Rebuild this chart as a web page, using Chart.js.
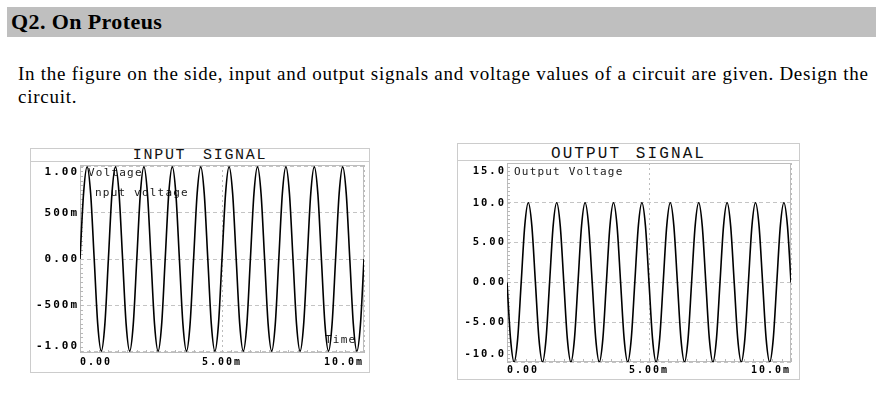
<!DOCTYPE html>
<html>
<head>
<meta charset="utf-8">
<script src="https://cdn.jsdelivr.net/npm/chart.js@4.4.1/dist/chart.umd.min.js"></script>
<style>
    body { margin: 0; background: #fff; width: 881px; height: 394px; position: relative; overflow: hidden; }
    .cabecera { position: absolute; left: 7px; top: 7px; width: 869px; height: 30px; background: #bfbfbf;
        font: bold 22px "Liberation Serif", serif; line-height: 30px; padding-left: 4px; box-sizing: border-box;
        letter-spacing: 0.4px; color: #000; }
    .texto { position: absolute; left: 18px; top: 62px; width: 856px; margin: 0;
        font: 19px "Liberation Serif", serif; line-height: 23px; letter-spacing: 0.75px; color: #000; }
    .panel { position: absolute; border: 1px solid #cccccc; box-sizing: border-box; }
    .titulo { position: absolute; left: 0; right: 0; top: 0; border-bottom: 1px solid #cccccc; text-align: center;
        font-family: "Liberation Mono", monospace; color: #111; white-space: pre; }
    canvas { position: absolute; }
</style>
</head>
<body>
<div class="cabecera">Q2. On Proteus</div>
<p class="texto">In the figure on the side, input and output signals and voltage values of a circuit are given. Design the circuit.</p>

<div class="panel" style="left:30px; top:148px; width:340px; height:225px;">
    <div class="titulo" style="height:12px; line-height:14px; font-size:15px; letter-spacing:1.7px; word-spacing:6px;">INPUT SIGNAL</div>
</div>
<div class="panel" style="left:457px; top:143px; width:343px; height:237px;">
    <div class="titulo" style="height:16px; line-height:21px; font-size:16px; letter-spacing:2.1px; word-spacing:3px;">OUTPUT SIGNAL</div>
</div>

<canvas id="entrada" width="338" height="210" style="left:31px; top:162px;"></canvas>
<canvas id="salida" width="341" height="218" style="left:458px; top:161px;"></canvas>

<script>
// tiempo en ms (muestras cada 1/8 de periodo)
const timeMs = [
    0, 0.125, 0.25, 0.375, 0.5, 0.625, 0.75, 0.875,
    1, 1.125, 1.25, 1.375, 1.5, 1.625, 1.75, 1.875,
    2, 2.125, 2.25, 2.375, 2.5, 2.625, 2.75, 2.875,
    3, 3.125, 3.25, 3.375, 3.5, 3.625, 3.75, 3.875,
    4, 4.125, 4.25, 4.375, 4.5, 4.625, 4.75, 4.875,
    5, 5.125, 5.25, 5.375, 5.5, 5.625, 5.75, 5.875,
    6, 6.125, 6.25, 6.375, 6.5, 6.625, 6.75, 6.875,
    7, 7.125, 7.25, 7.375, 7.5, 7.625, 7.75, 7.875,
    8, 8.125, 8.25, 8.375, 8.5, 8.625, 8.75, 8.875,
    9, 9.125, 9.25, 9.375, 9.5, 9.625, 9.75, 9.875,
    10
];

// tension de entrada (V)
const inputVoltage = [
    0, 0.71, 1, 0.71, 0, -0.71, -1, -0.71,
    0, 0.71, 1, 0.71, 0, -0.71, -1, -0.71,
    0, 0.71, 1, 0.71, 0, -0.71, -1, -0.71,
    0, 0.71, 1, 0.71, 0, -0.71, -1, -0.71,
    0, 0.71, 1, 0.71, 0, -0.71, -1, -0.71,
    0, 0.71, 1, 0.71, 0, -0.71, -1, -0.71,
    0, 0.71, 1, 0.71, 0, -0.71, -1, -0.71,
    0, 0.71, 1, 0.71, 0, -0.71, -1, -0.71,
    0, 0.71, 1, 0.71, 0, -0.71, -1, -0.71,
    0, 0.71, 1, 0.71, 0, -0.71, -1, -0.71,
    0
];

// tension de salida (V), invertida
const outputVoltage = [
    0, -7.1, -10, -7.1, 0, 7.1, 10, 7.1,
    0, -7.1, -10, -7.1, 0, 7.1, 10, 7.1,
    0, -7.1, -10, -7.1, 0, 7.1, 10, 7.1,
    0, -7.1, -10, -7.1, 0, 7.1, 10, 7.1,
    0, -7.1, -10, -7.1, 0, 7.1, 10, 7.1,
    0, -7.1, -10, -7.1, 0, 7.1, 10, 7.1,
    0, -7.1, -10, -7.1, 0, 7.1, 10, 7.1,
    0, -7.1, -10, -7.1, 0, 7.1, 10, 7.1,
    0, -7.1, -10, -7.1, 0, 7.1, 10, 7.1,
    0, -7.1, -10, -7.1, 0, 7.1, 10, 7.1,
    0
];

const xTicks = [0, 5, 10];
const xTickLabels = ['0.00', '5.00m', '10.0m'];
const inputYTicks = [-1, -0.5, 0, 0.5, 1];
const inputYLabels = ['-1.00', '-500m', '0.00', '500m', '1.00'];
const outputYTicks = [-10, -5, 0, 5, 10, 15];
const outputYLabels = ['-10.0', '-5.00', '0.00', '5.00', '10.0', '15.0'];

const fuente = 'DejaVu Sans Mono';

// marco del area, marcas menores y rotulos internos
const marco = {
    id: 'marco',
    beforeDraw(chart) {
        chart.ctx.letterSpacing = '2px';
    },
    beforeDatasetsDraw(chart, args, opts) {
        const { ctx, chartArea: a, scales } = chart;
        ctx.save();
        ctx.strokeStyle = '#bdbdbd';
        ctx.lineWidth = 1;
        ctx.strokeRect(a.left + 0.5, a.top + 0.5, a.right - a.left - 1, a.bottom - a.top - 1);

        // marcas menores
        ctx.strokeStyle = '#b8b8b8';
        ctx.beginPath();
        const y = scales.y, x = scales.x;
        for (let v = Math.ceil(y.min / opts.pasoY) * opts.pasoY; v <= y.max; v += opts.pasoY) {
            const py = Math.round(y.getPixelForValue(v)) + 0.5;
            ctx.moveTo(a.left, py);
            ctx.lineTo(a.left + 3, py);
        }
        for (let v = 0; v <= x.max + 1e-6; v += opts.pasoX) {
            const px = Math.round(x.getPixelForValue(v)) + 0.5;
            ctx.moveTo(px, a.bottom);
            ctx.lineTo(px, a.bottom - 3);
        }
        ctx.stroke();

        ctx.letterSpacing = '1.2px';
        ctx.font = '11px "' + fuente + '"';
        ctx.fillStyle = '#1a1a1a';
        ctx.textBaseline = 'middle';
        ctx.textAlign = 'left';
        opts.textos.forEach(t => ctx.fillText(t.texto, a.left + t.dx, a.top + t.dy));
        ctx.restore();
    }
};

function dibujarGrafico(id, valores, cfg) {
    const puntos = timeMs.map((t, i) => ({ x: t, y: valores[i] }));
    return new Chart(document.getElementById(id), {
        type: 'line',
        data: {
            datasets: [{
                data: puntos,
                borderColor: '#000',
                borderWidth: 1.6,
                pointRadius: 0,
                cubicInterpolationMode: 'monotone',
                fill: false
            }]
        },
        options: {
            responsive: false,
            animation: false,
            layout: { padding: { top: cfg.top, right: cfg.right, left: 0, bottom: 0 } },
            plugins: {
                legend: { display: false },
                tooltip: { enabled: false },
                marco: { textos: cfg.textos, pasoY: cfg.pasoY, pasoX: 1 / 3 }
            },
            scales: {
                x: {
                    type: 'linear',
                    min: 0,
                    max: 10,
                    afterBuildTicks: s => { s.ticks = xTicks.map(v => ({ value: v })); },
                    afterFit: s => { s.height = cfg.xAlto; s.paddingLeft = 0; s.paddingRight = 0; },
                    ticks: {
                        callback: (v, i) => xTickLabels[i],
                        align: 'inner',
                        maxRotation: 0,
                        autoSkip: false,
                        padding: cfg.xPad,
                        color: '#000',
                        font: { family: fuente, size: 10, weight: 'bold' }
                    },
                    grid: { color: '#bdbdbd', drawTicks: false },
                    border: { display: false, dash: [2, 3] }
                },
                y: {
                    min: cfg.yMin,
                    max: cfg.yMax,
                    afterBuildTicks: s => { s.ticks = cfg.yTicks.map(v => ({ value: v })); },
                    afterFit: s => { s.width = 49; s.paddingTop = 0; s.paddingBottom = 0; },
                    ticks: {
                        // los extremos se desplazan hacia dentro, como en Proteus
                        callback: (v, i) => {
                            const t = cfg.yLabels[i];
                            if (i === cfg.yTicks.length - 1) return ['', t];
                            if (i === 0) return [t, ''];
                            return t;
                        },
                        padding: 1,
                        color: '#000',
                        font: { family: fuente, size: cfg.yFont, weight: 'bold', lineHeight: cfg.yLinea }
                    },
                    grid: { color: '#c4c4c4', drawTicks: false },
                    border: { display: false, dash: [4, 3] }
                }
            }
        },
        plugins: [marco]
    });
}

dibujarGrafico('entrada', inputVoltage, {
    top: 3, right: 5, xAlto: 19, xPad: 3,
    yMin: -1.02, yMax: 1.02, yTicks: inputYTicks, yLabels: inputYLabels,
    yFont: 11, yLinea: 1.0, pasoY: 0.05,
    textos: [
        { texto: 'Voltage', dx: 8, dy: 8 },
        { texto: 'nput voltage', dx: 15, dy: 28 },
        { texto: 'Time', dx: 245, dy: 175 }
    ]
});

dibujarGrafico('salida', outputVoltage, {
    top: 2, right: 8, xAlto: 17, xPad: 2,
    yMin: -10, yMax: 15, yTicks: outputYTicks, yLabels: outputYLabels,
    yFont: 10.5, yLinea: 1.5, pasoY: 0.5,
    textos: [
        { texto: 'Output Voltage', dx: 7, dy: 9 }
    ]
});
</script>
</body>
</html>
